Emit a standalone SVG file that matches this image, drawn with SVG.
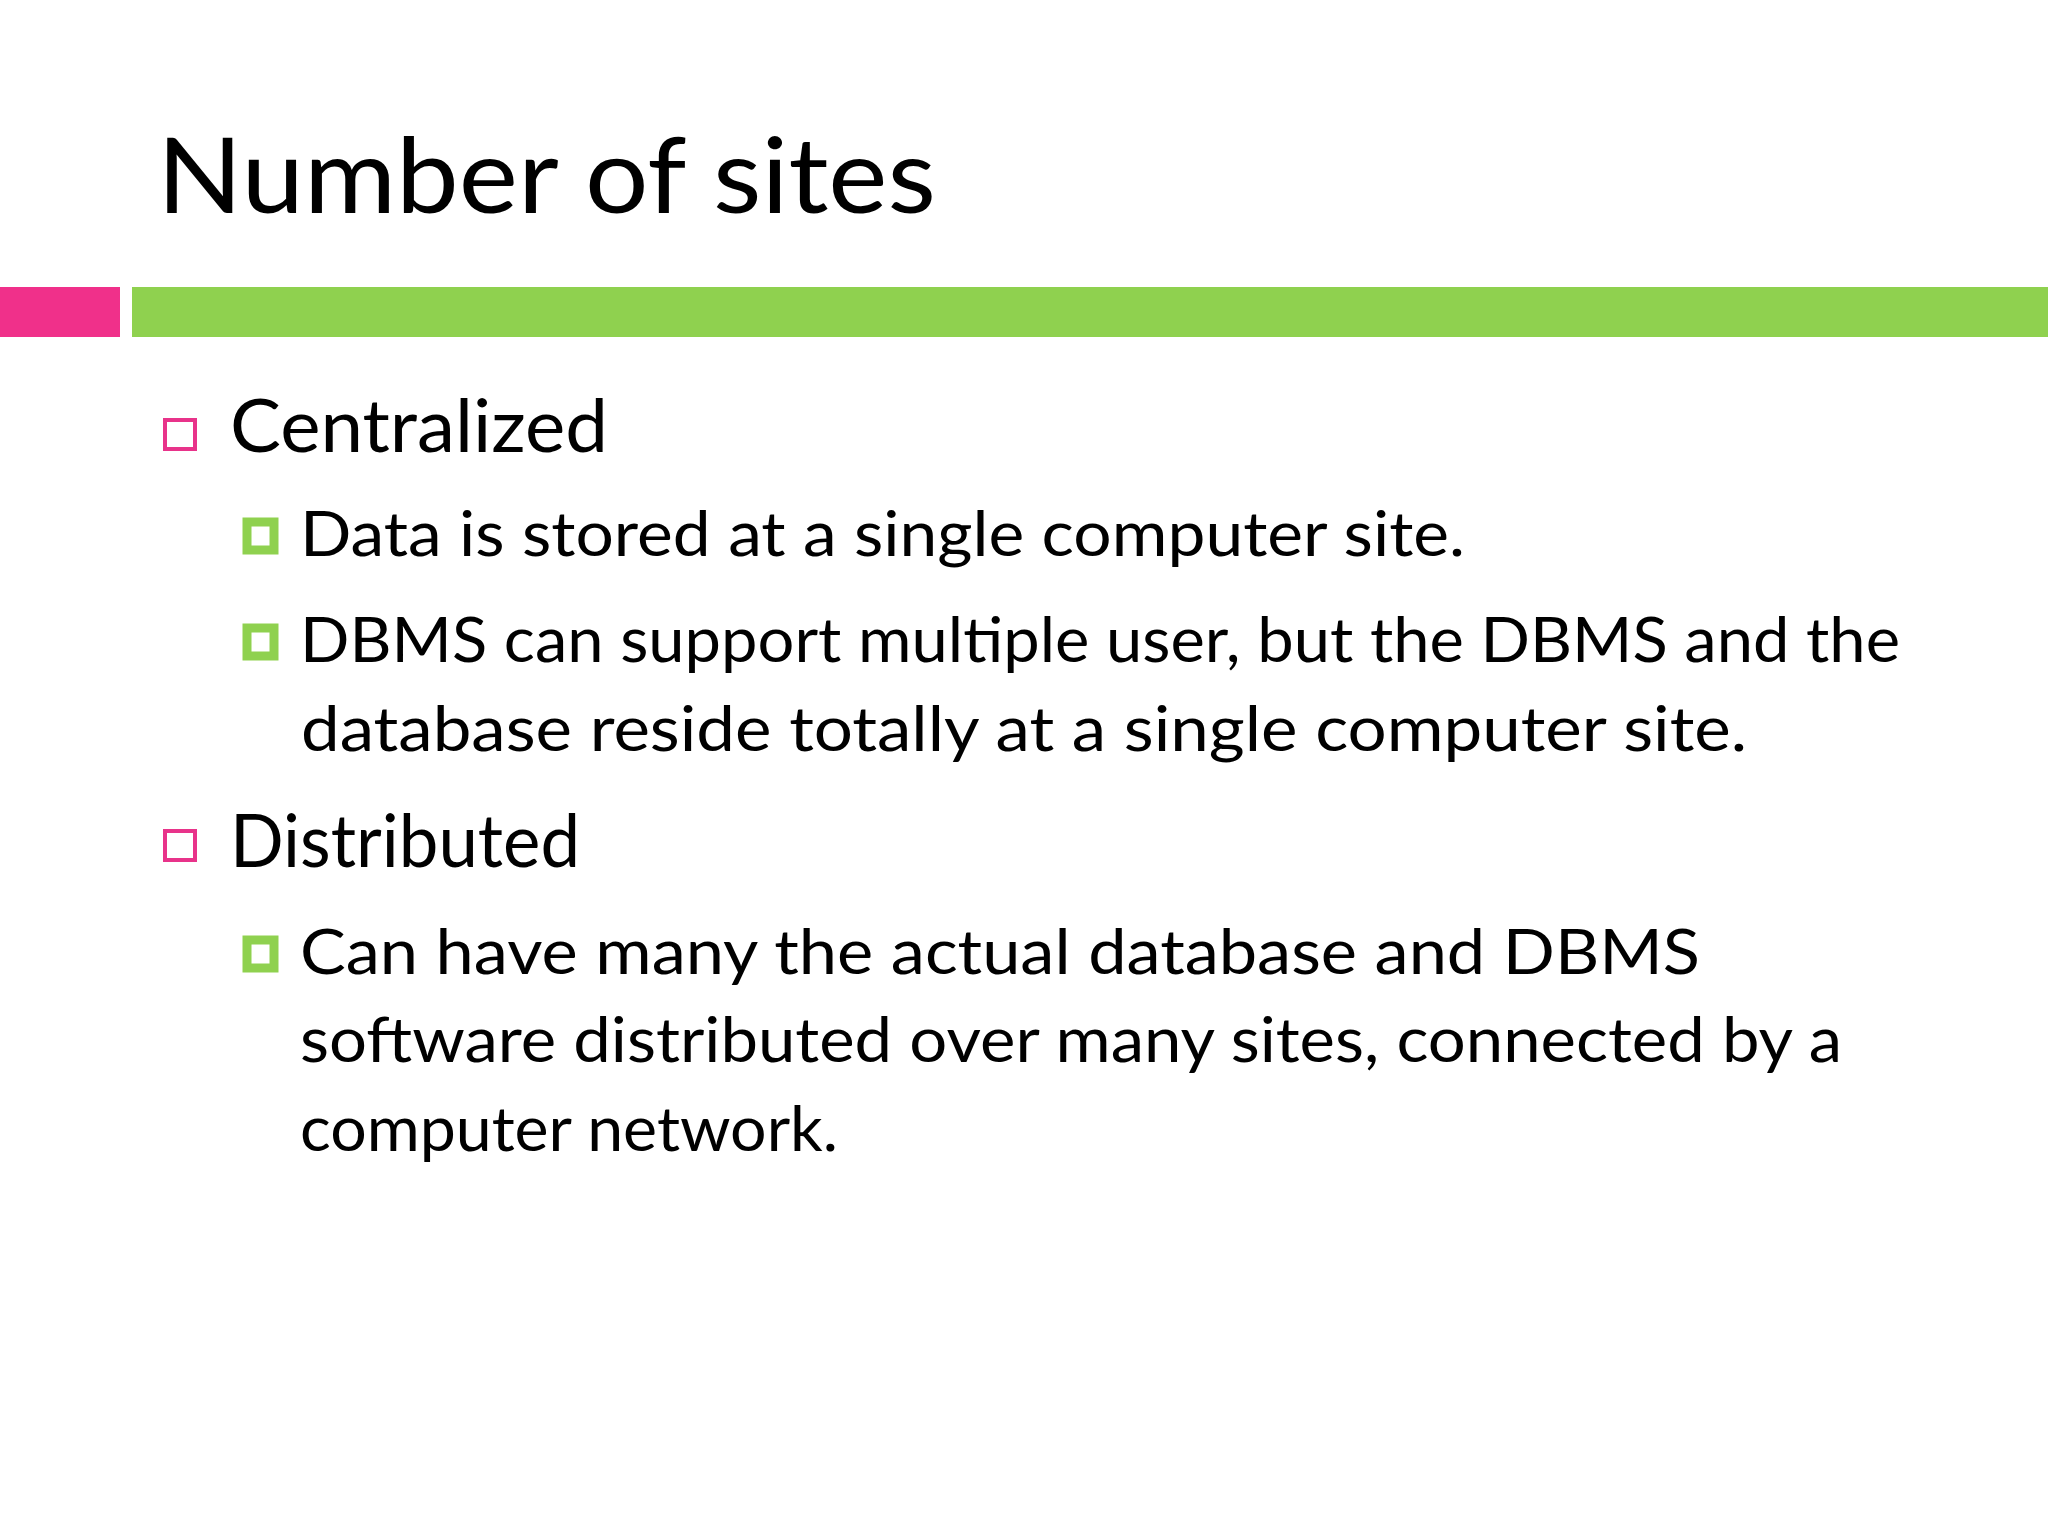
<svg xmlns="http://www.w3.org/2000/svg" width="2048" height="1536" viewBox="0 0 2048 1536">
<style>
.t{font-family:"Lato","Liberation Sans",sans-serif;fill:#000}
.h{font-size:104px}
.l1{font-size:74px}
.l2{font-size:62px}
.pb{fill:#fff;stroke:#e8338a;stroke-width:4}
.gb{fill:#fff;stroke:#8fd14f;stroke-width:9}
</style>
<rect width="2048" height="1536" fill="#fff"/>
<text class="t h" x="157" y="213" textLength="779" lengthAdjust="spacingAndGlyphs">Number of sites</text>
<rect x="0" y="287" width="120" height="50" fill="#f0308a"/>
<rect x="132" y="287" width="1916" height="50" fill="#8fd14f"/>
<g id="b1"><rect class="pb" x="165" y="420" width="30" height="29"/>
<text class="t l1" x="230" y="452" textLength="378" lengthAdjust="spacingAndGlyphs">Centralized</text></g>
<g id="b1a"><rect class="gb" x="247" y="522" width="27" height="28"/>
<text class="t l2" x="300" y="556" textLength="1165" lengthAdjust="spacingAndGlyphs">Data is stored at a single computer site.</text></g>
<g id="b1b"><rect class="gb" x="247" y="628" width="27" height="28"/>
<text class="t l2" x="300" y="662" textLength="1600" lengthAdjust="spacingAndGlyphs">DBMS can support multiple user, but the DBMS and the</text>
<text class="t l2" x="301" y="751" textLength="1446" lengthAdjust="spacingAndGlyphs">database reside totally at a single computer site.</text></g>
<g id="b2"><rect class="pb" x="165" y="831" width="30" height="29"/>
<text class="t l1" x="230" y="867" textLength="350" lengthAdjust="spacingAndGlyphs">Distributed</text></g>
<g id="b2a"><rect class="gb" x="247" y="940" width="27" height="28"/>
<text class="t l2" x="300" y="974" textLength="1400" lengthAdjust="spacingAndGlyphs">Can have many the actual database and DBMS</text>
<text class="t l2" x="300" y="1062" textLength="1542" lengthAdjust="spacingAndGlyphs">software distributed over many sites, connected by a</text>
<text class="t l2" x="300" y="1151" textLength="538" lengthAdjust="spacingAndGlyphs">computer network.</text></g>
</svg>
